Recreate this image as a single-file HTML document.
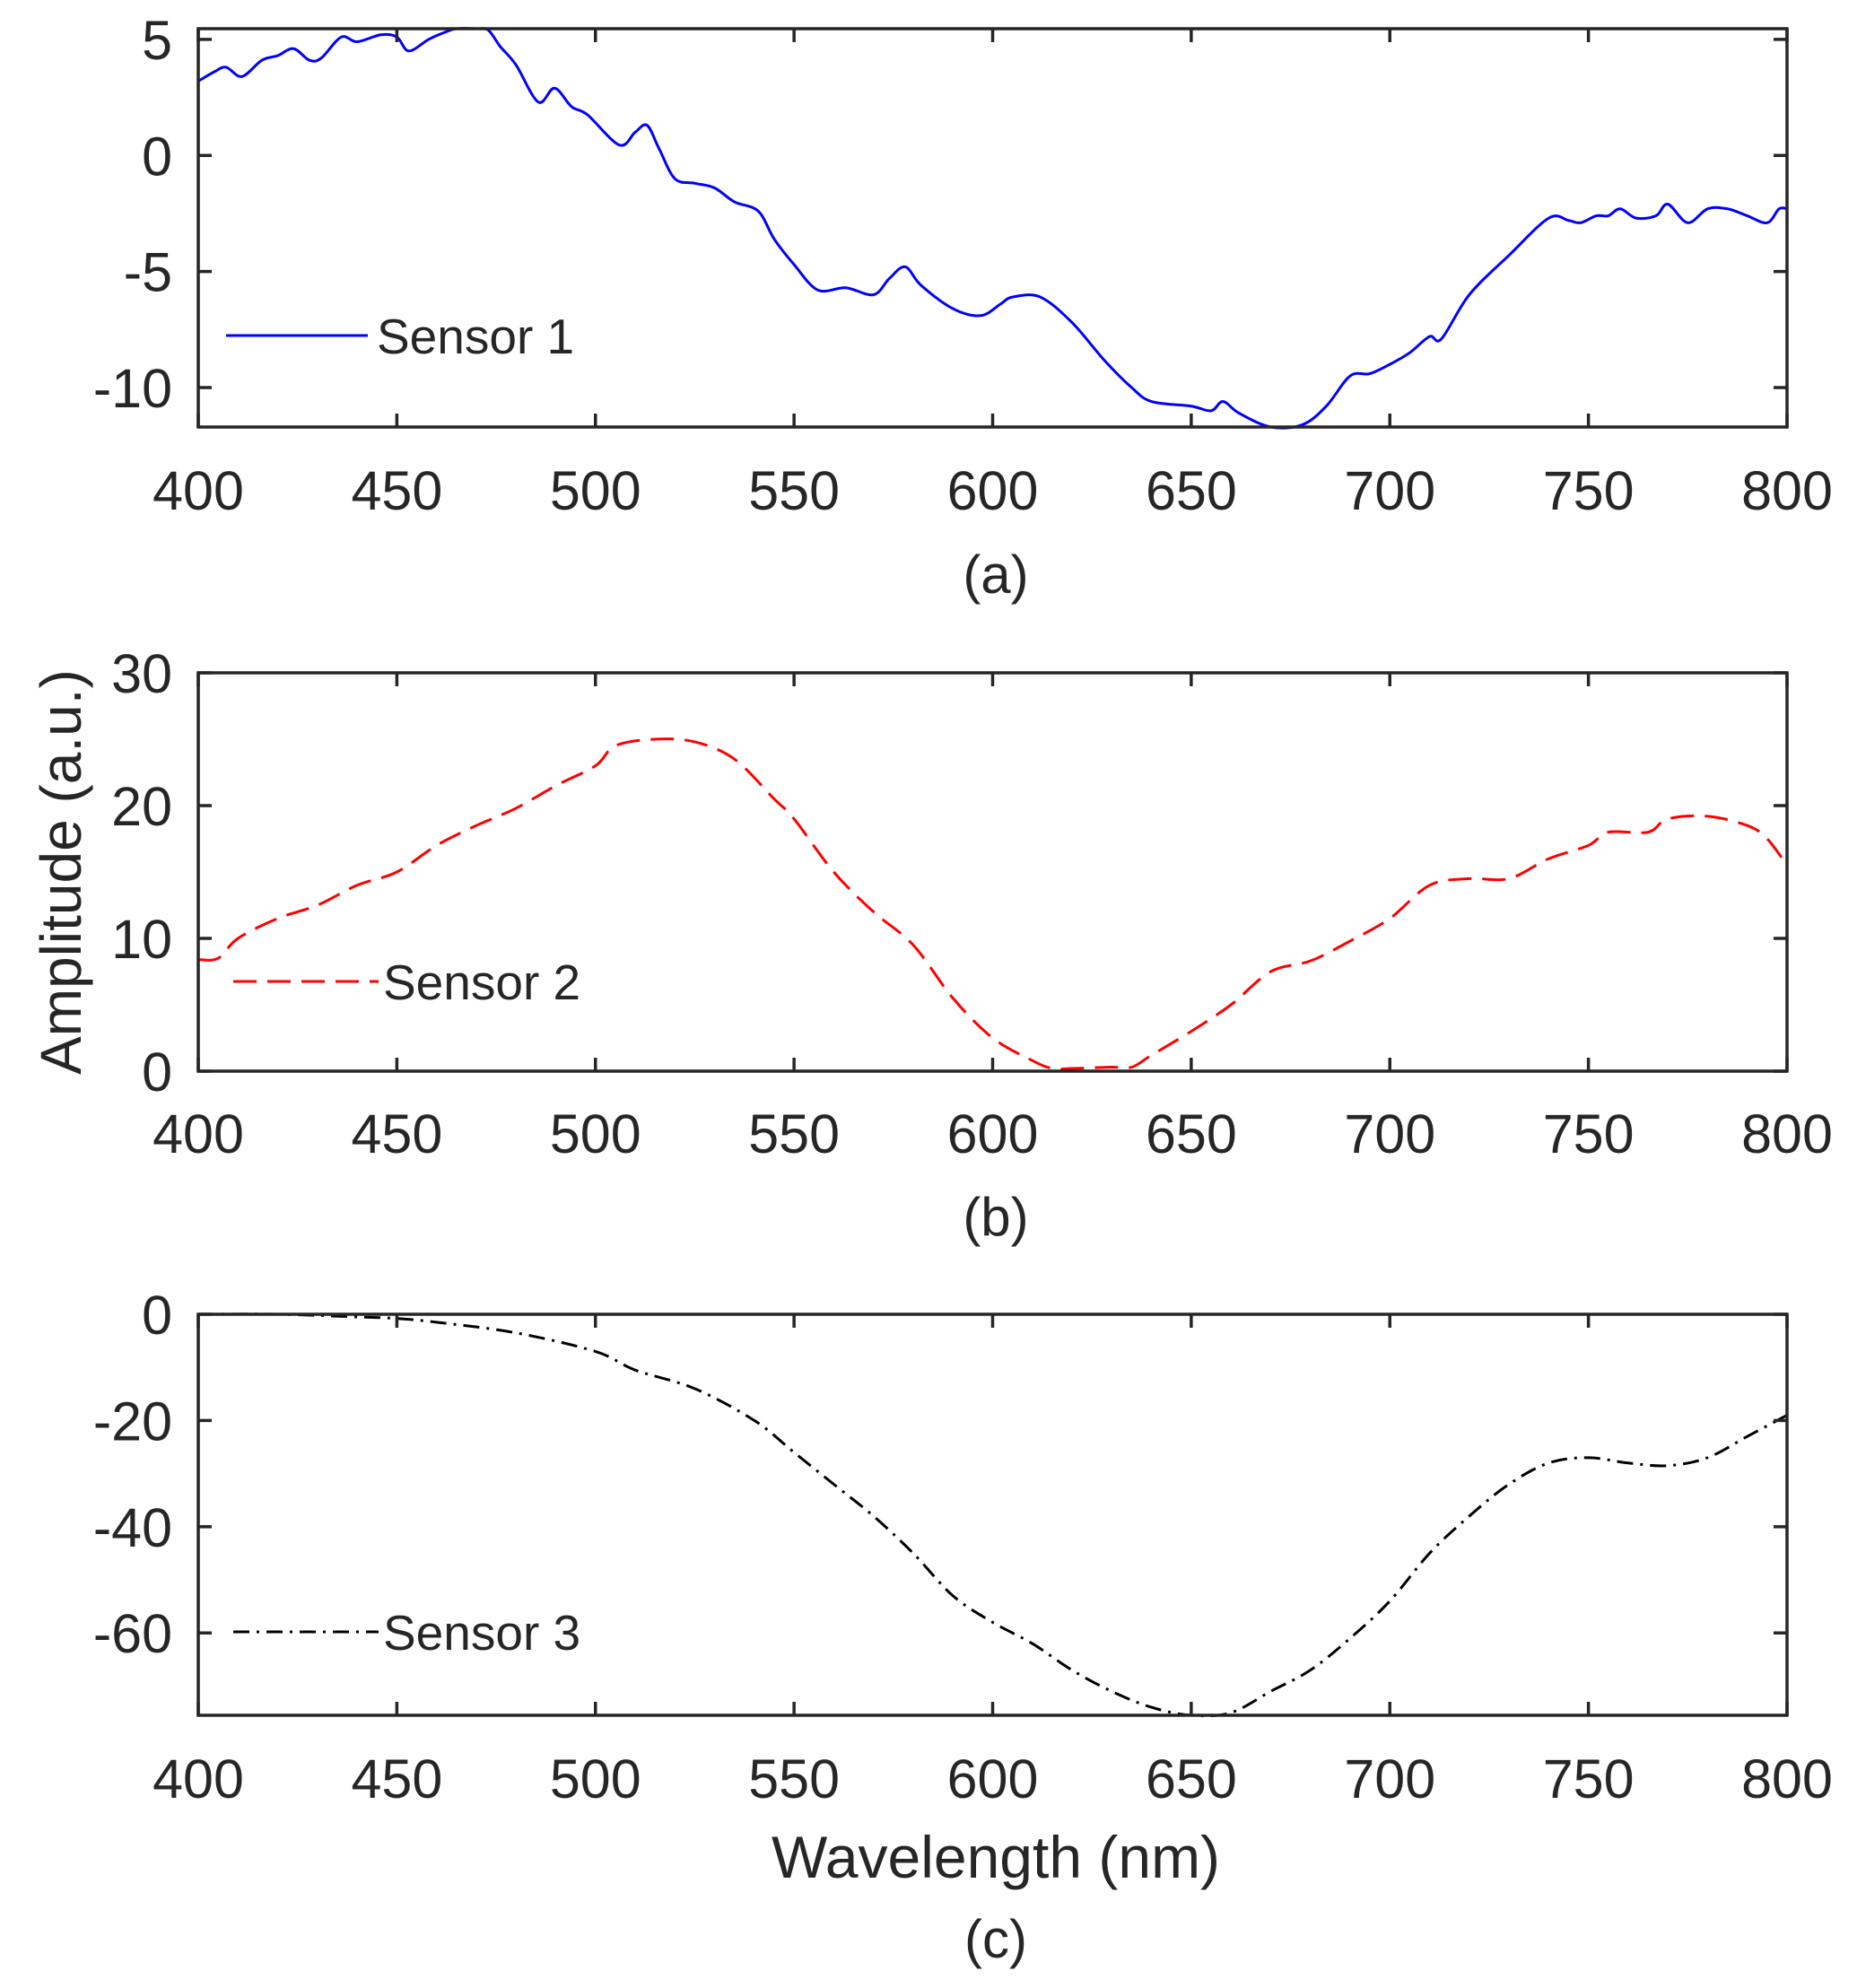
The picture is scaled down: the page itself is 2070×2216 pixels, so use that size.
<!DOCTYPE html>
<html><head><meta charset="utf-8"><style>
html,body{margin:0;padding:0;background:#fff;}
svg text{font-family:"Liberation Sans",sans-serif;fill:#262626;}
</style></head><body>
<svg id="s" width="2070" height="2211" viewBox="0 0 2070 2211" xmlns="http://www.w3.org/2000/svg">
<rect width="2070" height="2211" fill="#fff"/>
<g id="g"></g>
<text x="1110" y="661" font-size="60" text-anchor="middle">(a)</text>
<text x="1110" y="1377" font-size="60" text-anchor="middle">(b)</text>
<text x="1110" y="2182" font-size="60" text-anchor="middle">(c)</text>
<text x="1110" y="2093" font-size="66" text-anchor="middle">Wavelength (nm)</text>
<text transform="translate(90,972) rotate(-90)" font-size="64" text-anchor="middle">Amplitude (a.u.)</text>
<text x="420" y="394" font-size="55">Sensor 1</text>
<text x="427" y="1114" font-size="55">Sensor 2</text>
<text x="427" y="1839" font-size="55">Sensor 3</text>
<line x1="252" y1="374" x2="410" y2="374" stroke="#0000ff" stroke-width="3"/>
<line x1="260" y1="1094" x2="422" y2="1094" stroke="#ff0000" stroke-width="3" stroke-dasharray="26,12"/>
<line x1="260" y1="1819" x2="422" y2="1819" stroke="#000" stroke-width="3" stroke-dasharray="18,8,3,8"/>
</svg>
<script>
var NS="http://www.w3.org/2000/svg",g=document.getElementById('g');
var X0=221,X1=1992;
function xp(v){return X0+(v-400)/400*(X1-X0);}
function el(t,a,p){var e=document.createElementNS(NS,t);for(var k in a)if(k!="text")e.setAttribute(k,a[k]);if(a.text){e.textContent=a.text;}(p||g).appendChild(e);return e;}
var panels=[
 {t:32,b:476,ymin:-11.7,ymax:5.46,ticks:[5,0,-5,-10],xl:546,color:"#0000ff",dash:"",
  d:[[400,3.2],[404,3.6],[407,3.8],[411,3.4],[416,4.1],[420,4.3],[424,4.6],[428,4.1],[431,4.2],[436,5.1],[440,4.9],[446,5.2],[450,5.1],[453,4.5],[458,5.0],[462,5.3],[465,5.6],[470,5.5],[473,5.4],[476,4.7],[480,3.9],[485.6,2.3],[489.7,2.9],[494,2.1],[498,1.75],[506,0.45],[510,1.0],[513,1.3],[516,0.3],[520,-1.0],[525,-1.2],[530,-1.4],[535,-2.0],[541,-2.4],[545,-3.6],[550,-4.7],[556,-5.8],[563,-5.7],[570,-6.0],[574,-5.3],[578,-4.8],[582,-5.6],[590,-6.6],[597,-6.9],[602,-6.4],[605,-6.1],[612,-6.1],[620,-7.2],[628,-8.8],[635,-10.0],[640,-10.6],[650,-10.8],[655,-11.0],[658,-10.6],[662,-11.1],[670,-11.7],[678,-11.6],[684,-10.8],[690,-9.5],[695,-9.4],[700,-9.0],[705,-8.5],[710,-7.8],[713,-7.9],[720,-6.0],[730,-4.3],[740,-2.7],[745,-2.8],[748,-2.9],[752,-2.6],[755,-2.6],[758,-2.3],[762,-2.7],[767,-2.6],[770,-2.1],[775,-2.9],[780,-2.3],[785,-2.3],[790,-2.6],[795,-2.9],[798,-2.3],[800,-2.3]]},
 {t:750,b:1194,ymin:0,ymax:30,ticks:[30,20,10,0],xl:1263,color:"#ff0000",dash:"26,12",
  d:[[400,8.4],[405,8.5],[410,10.0],[420,11.5],[430,12.5],[440,14.0],[450,15.0],[460,17.0],[470,18.5],[480,19.8],[490,21.5],[500,23.0],[505,24.5],[515,25.0],[525,24.8],[535,23.5],[545,20.5],[550,19.0],[560,15.0],[570,12.0],[580,9.5],[590,5.5],[600,2.5],[610,0.8],[615,0.2],[620,0.2],[630,0.3],[635,0.3],[640,1.2],[650,3.0],[660,5.0],[670,7.5],[680,8.3],[690,9.8],[700,11.5],[710,14.0],[720,14.5],[730,14.5],[740,16.0],[750,17.0],[755,18.0],[765,18.0],[770,19.0],[780,19.2],[790,18.5],[795,17.5],[800,15.5]]},
 {t:1465,b:1912,ymin:-75.5,ymax:0,ticks:[0,-20,-40,-60],xl:1982,color:"#000",dash:"18,8,3,8",
  d:[[400,0],[420,0.3],[440,-0.5],[450,-0.8],[460,-1.5],[480,-3.5],[500,-7],[510,-10.5],[525,-14],[540,-20],[550,-26],[560,-32],[570,-38],[580,-45],[590,-53],[600,-58],[610,-62],[620,-67],[630,-71],[640,-74],[650,-75.5],[660,-75],[670,-71],[680,-67],[690,-61],[700,-54],[710,-45],[720,-38],[730,-32],[740,-28],[750,-27],[760,-28],[770,-28.5],[780,-27],[790,-23],[800,-19]]}
];
panels.forEach(function(p){
 function yp(v){return p.b-(v-p.ymin)/(p.ymax-p.ymin)*(p.b-p.t);}
 var pts=p.d.map(function(q){return [xp(q[0]),Math.max(p.t,Math.min(p.b,yp(q[1])))];});
 var s="M"+pts[0][0]+","+pts[0][1];
 for(var i=0;i<pts.length-1;i++){
  var p0=pts[i-1]||pts[i],p1=pts[i],p2=pts[i+1],p3=pts[i+2]||p2;
  var c1=[p1[0]+(p2[0]-p0[0])/6,p1[1]+(p2[1]-p0[1])/6],c2=[p2[0]-(p3[0]-p1[0])/6,p2[1]-(p3[1]-p1[1])/6];
  s+=" C"+c1+" "+c2+" "+p2;
 }
 var a={d:s,fill:"none",stroke:p.color,"stroke-width":3};
 if(p.dash)a["stroke-dasharray"]=p.dash;
 el("path",a);
 el("rect",{x:X0,y:p.t,width:X1-X0,height:p.b-p.t,fill:"none",stroke:"#262626","stroke-width":3.5});
 for(var v=400;v<=800;v+=50){var x=xp(v);
  el("line",{x1:x,y1:p.b,x2:x,y2:p.b-15,stroke:"#262626","stroke-width":3.5});
  el("line",{x1:x,y1:p.t,x2:x,y2:p.t+15,stroke:"#262626","stroke-width":3.5});
  el("text",{x:x,y:p.xl+22,"font-size":61,"text-anchor":"middle",text:String(v)});}
 p.ticks.forEach(function(v){var y=yp(v);
  el("line",{x1:X0,y1:y,x2:X0+15,y2:y,stroke:"#262626","stroke-width":3.5});
  el("line",{x1:X1,y1:y,x2:X1-15,y2:y,stroke:"#262626","stroke-width":3.5});
  el("text",{x:192,y:y+22,"font-size":61,"text-anchor":"end",text:String(v)});});
});
</script>
</body></html>
